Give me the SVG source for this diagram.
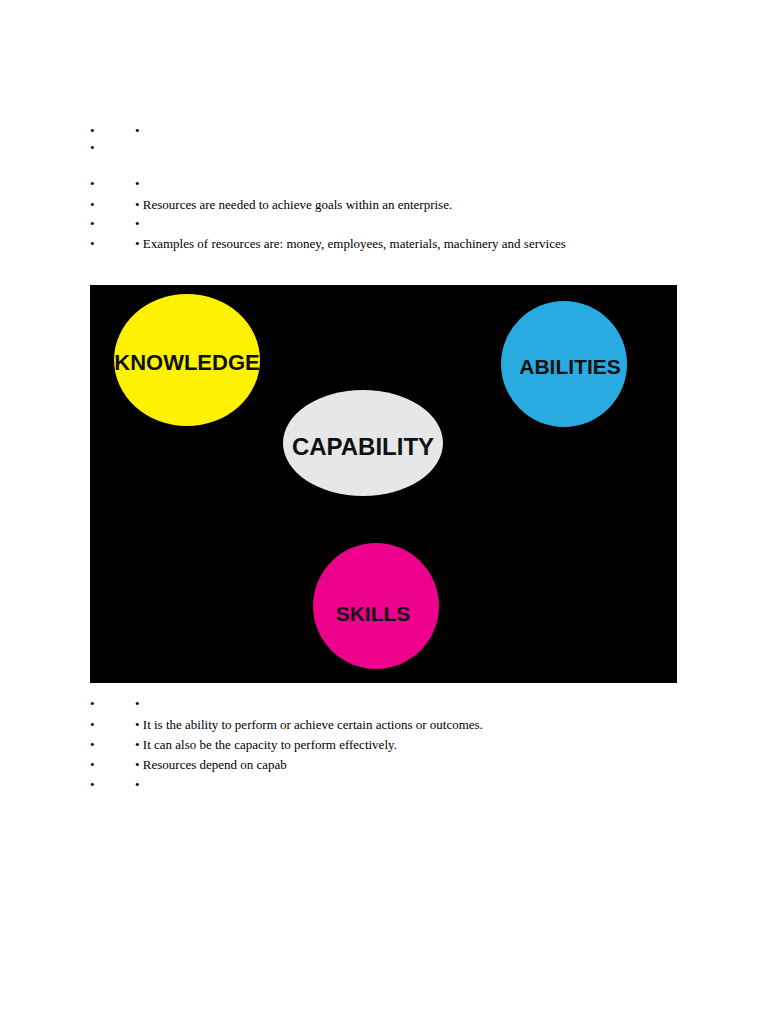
<svg xmlns="http://www.w3.org/2000/svg" width="768" height="1024" viewBox="0 0 768 1024">
<style>
.t{font-family:"Liberation Serif",serif;font-size:13px;fill:#000}
.n{font-family:"Liberation Sans",Arial,sans-serif;font-weight:bold;fill:#111;text-anchor:middle}
</style>
<rect width="768" height="1024" fill="#fff"/>
<g id="text-top">
<text class="t" x="90" y="135">•</text><text class="t" x="135" y="135">•</text>
<text class="t" x="90" y="152">•</text>
<text class="t" x="90" y="188">•</text><text class="t" x="135" y="188">•</text>
<text class="t" x="90" y="209">•</text><text class="t" x="135" y="209">• Resources are needed to achieve goals within an enterprise.</text>
<text class="t" x="90" y="228">•</text><text class="t" x="135" y="228">•</text>
<text class="t" x="90" y="248">•</text><text class="t" x="135" y="248">• Examples of resources are: money, employees, materials, machinery and services</text>
</g>
<rect x="90" y="285" width="587" height="398" fill="#000"/>
<g id="knowledge"><ellipse cx="187" cy="360" rx="73" ry="66" fill="#fff200"/><text class="n" x="187" y="370" font-size="22">KNOWLEDGE</text></g>
<g id="abilities"><circle cx="564" cy="364" r="63" fill="#29abe2"/><text class="n" x="570" y="374" font-size="21">ABILITIES</text></g>
<g id="capability"><ellipse cx="363" cy="443" rx="80" ry="53" fill="#e6e7e8"/><text class="n" x="363" y="455" font-size="24">CAPABILITY</text></g>
<g id="skills"><circle cx="376" cy="606" r="63" fill="#ec008c"/><text class="n" x="373" y="621" font-size="21">SKILLS</text></g>
<g id="connectors"/>
<g id="text-bottom">
<text class="t" x="90" y="708">•</text><text class="t" x="135" y="708">•</text>
<text class="t" x="90" y="729">•</text><text class="t" x="135" y="729">• It is the ability to perform or achieve certain actions or outcomes.</text>
<text class="t" x="90" y="749">•</text><text class="t" x="135" y="749">• It can also be the capacity to perform effectively.</text>
<text class="t" x="90" y="769">•</text><text class="t" x="135" y="769">• Resources depend on capab</text>
<text class="t" x="90" y="789">•</text><text class="t" x="135" y="789">•</text>
</g>
</svg>
